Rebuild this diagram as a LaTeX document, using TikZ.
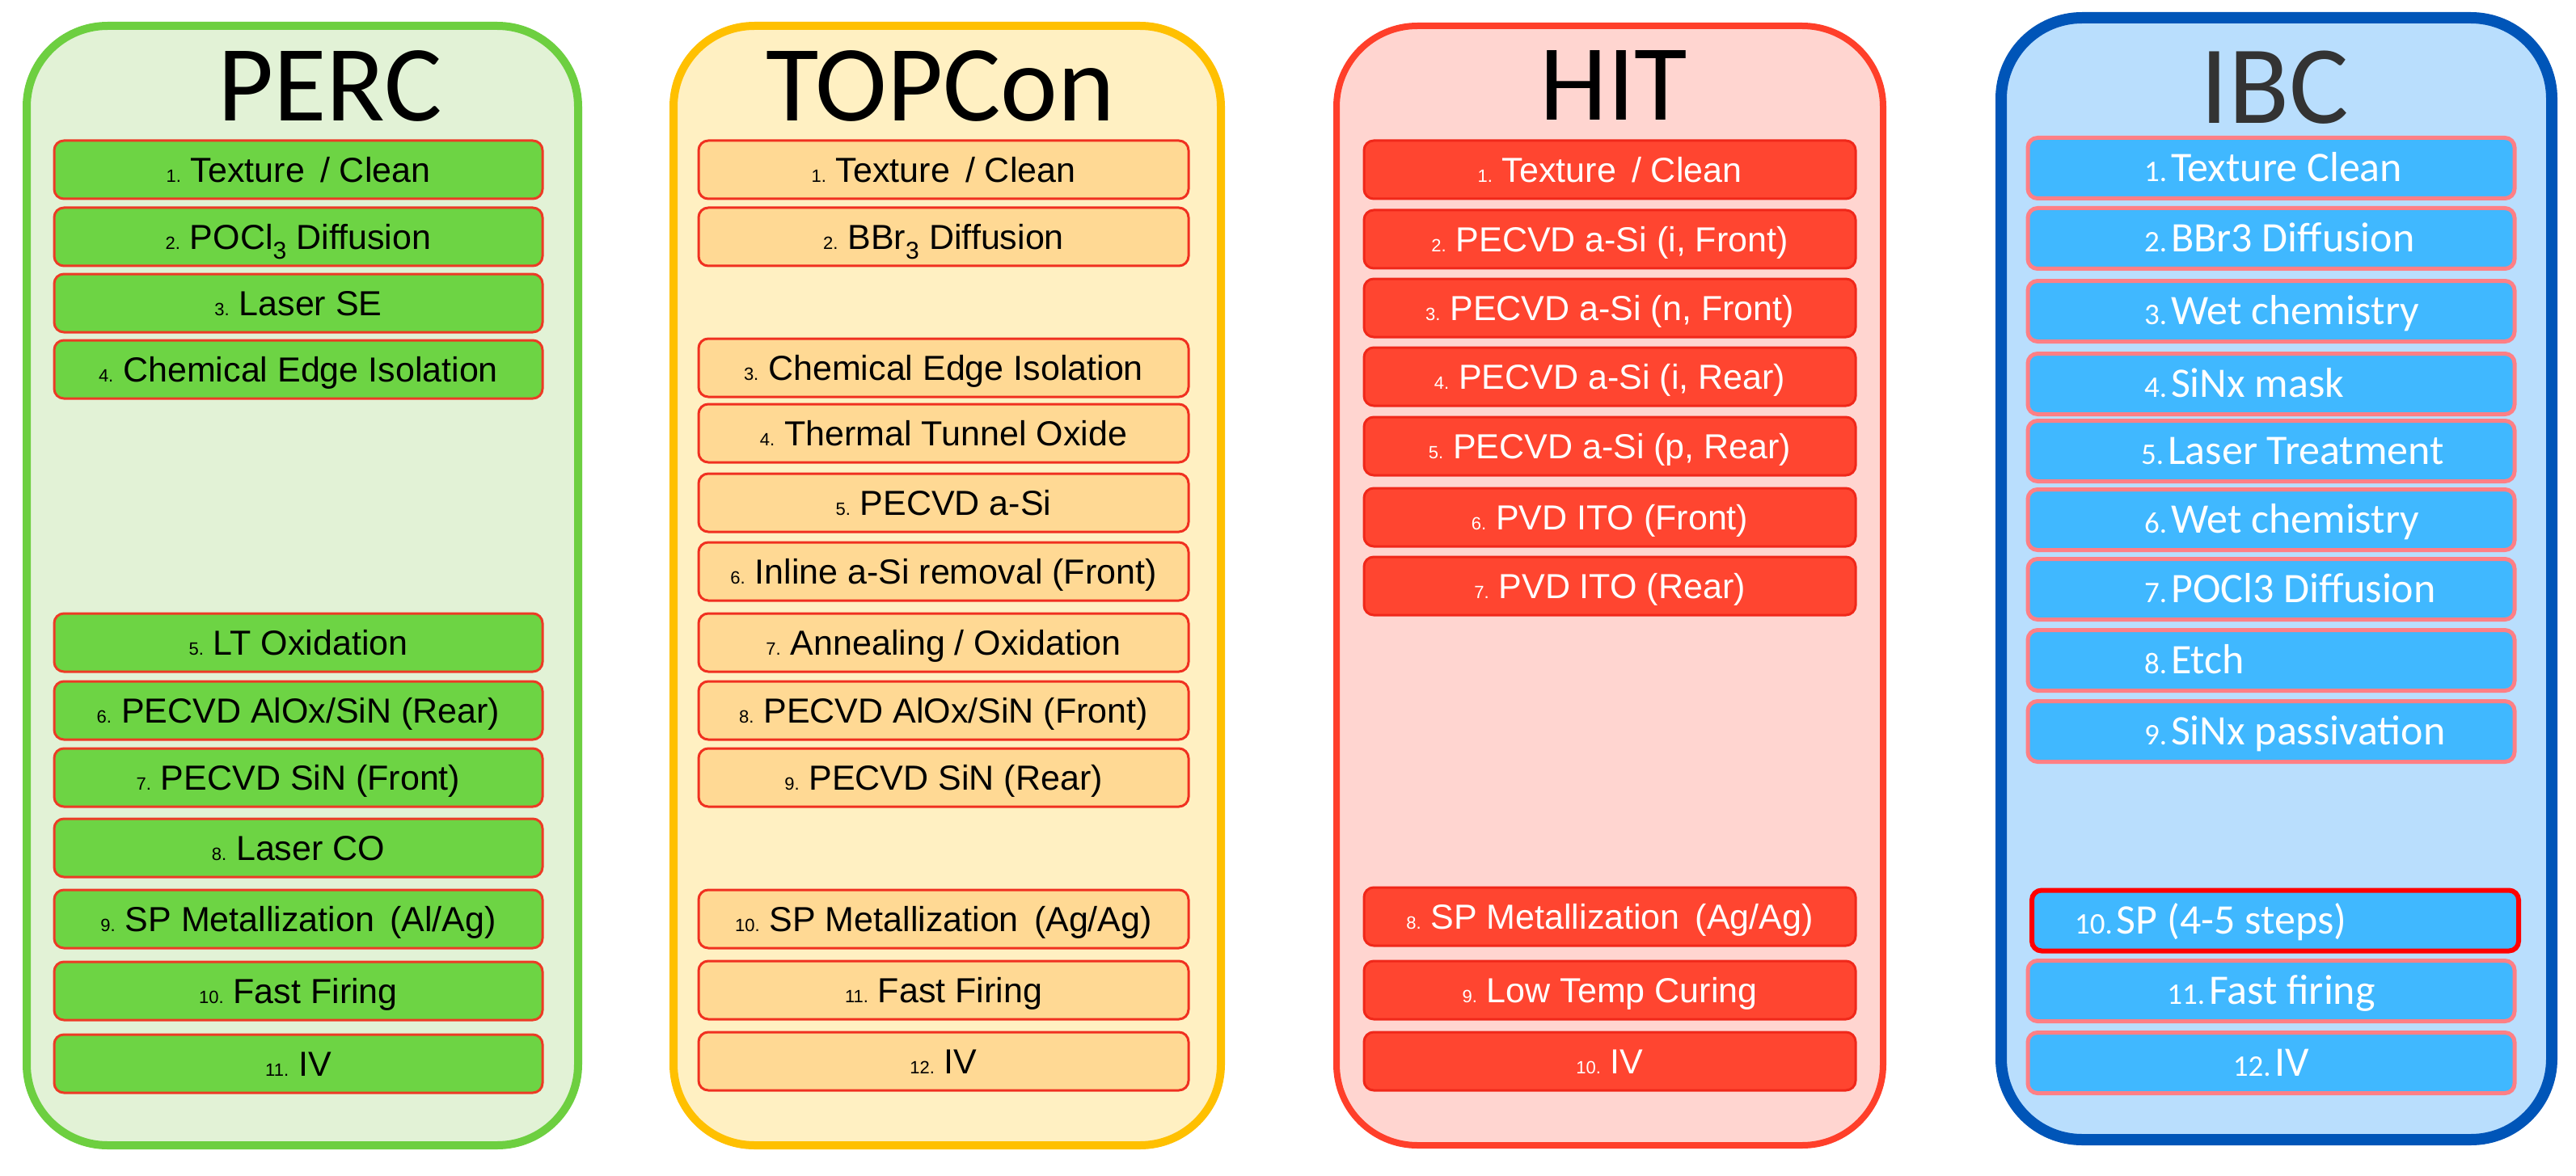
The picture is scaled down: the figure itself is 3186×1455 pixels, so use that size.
\documentclass[tikz,border=0pt]{standalone}
\usepackage{fontspec}
\setmainfont{Liberation Sans}
\newfontfamily\calib{Carlito}
\newfontfamily\arl{Liberation Sans}
\definecolor{percpanelfill}{HTML}{E2F2D6}
\definecolor{percpanelline}{HTML}{6DCF40}
\definecolor{percboxfill}{HTML}{6DD444}
\definecolor{percboxline}{HTML}{EC3B25}
\definecolor{toppanelfill}{HTML}{FFF0C2}
\definecolor{toppanelline}{HTML}{FFC000}
\definecolor{topboxfill}{HTML}{FFD994}
\definecolor{topboxline}{HTML}{F03020}
\definecolor{hitpanelfill}{HTML}{FFD5D0}
\definecolor{hitpanelline}{HTML}{FF3F2A}
\definecolor{hitboxfill}{HTML}{FF4530}
\definecolor{hitboxline}{HTML}{F0281A}
\definecolor{ibcpanelfill}{HTML}{B9DEFD}
\definecolor{ibcpanelline}{HTML}{0055B8}
\definecolor{ibcboxfill}{HTML}{40B8FF}
\definecolor{ibcboxline}{HTML}{FF7F85}
\definecolor{ibcred}{HTML}{FF0000}
\definecolor{ibctitle}{HTML}{333333}
\newcommand\pn[1]{{\fontsize{22}{22}\selectfont #1.}\ }
\newcommand\ipn[1]{{\fontsize{37}{37}\selectfont #1.}\hspace{5pt}}
\newcommand\ileft[2]{\makebox[602pt][l]{\hspace{#1}#2}}
\tikzset{
  panel/.style={rounded corners=100pt, inner sep=0pt, minimum height=1385pt},
  ptitle/.style={font=\calib\fontsize{134}{134}\selectfont, anchor=base, inner sep=0pt},
  abox/.style={rounded corners=12pt, line width=3pt, minimum width=604pt, minimum height=72pt,
    inner sep=0pt, font=\arl\fontsize{43}{43}\selectfont, text height=31pt, text depth=0pt},
  percb/.style={abox, draw=percboxline, fill=percboxfill, text=black},
  topb/.style={abox, draw=topboxline, fill=topboxfill, text=black, minimum width=606pt},
  hitb/.style={abox, draw=hitboxline, fill=hitboxfill, text=white, minimum width=608pt},
  ibox/.style={rounded corners=12pt, line width=5pt, draw=ibcboxline, fill=ibcboxfill, text=white,
    minimum width=602pt, minimum height=75pt, inner sep=0pt,
    font=\calib\fontsize{52}{52}\selectfont, text height=33pt, text depth=0pt}
}
\begin{document}
\begin{tikzpicture}[x=1pt,y=-1pt]
\useasboundingbox (0,0) rectangle (3186,1455);
\fill[white] (0,0) rectangle (3186,1455);
% panels
\node[panel, draw=percpanelline, fill=percpanelfill, line width=10pt, minimum width=682pt] (perc) at (374,724.5) {};
\node[panel, draw=toppanelline, fill=toppanelfill, line width=10pt, minimum width=677pt] (topcon) at (1171.5,724.5) {};
\node[panel, draw=hitpanelline, fill=hitpanelfill, line width=8pt, minimum width=676pt] (hit) at (1991,724.5) {};
\node[panel, draw=ibcpanelline, fill=ibcpanelfill, line width=14pt, minimum width=681pt, minimum height=1388pt] (ibc) at (2815.5,716) {};
% titles
\node[ptitle] (tperc) at (408,150) {PERC};
\node[ptitle] (ttop) at (1163,150) {TOPCon};
\node[ptitle] (thit) at (1996,149) {HIT};
\node[ptitle, text=ibctitle, font=\calib\fontsize{138}{138}\selectfont] (tibc) at (2813,153) {IBC};
% PERC
\node[percb] (p1) at (369,210) {\pn{1}Texture \,/ Clean};
\node[percb] (p2) at (369,293) {\pn{2}POCl\textsubscript{3} Diffusion};
\node[percb] (p3) at (369,375) {\pn{3}Laser SE};
\node[percb] (p4) at (369,457) {\pn{4}Chemical Edge Isolation};
\node[percb] (p5) at (369,795) {\pn{5}LT Oxidation};
\node[percb] (p6) at (369,879) {\pn{6}PECVD AlOx/SiN (Rear)};
\node[percb] (p7) at (369,962) {\pn{7}PECVD SiN (Front)};
\node[percb] (p8) at (369,1049) {\pn{8}Laser CO};
\node[percb] (p9) at (369,1137) {\pn{9}SP Metallization \,(Al/Ag)};
\node[percb] (p10) at (369,1226) {\pn{10}Fast Firing};
\node[percb] (p11) at (369,1316) {\pn{11}IV};
% TOPCon
\node[topb] (t1) at (1167,210) {\pn{1}Texture \,/ Clean};
\node[topb] (t2) at (1167,293) {\pn{2}BBr\textsubscript{3} Diffusion};
\node[topb] (t3) at (1167,455) {\pn{3}Chemical Edge Isolation};
\node[topb] (t4) at (1167,536) {\pn{4}Thermal Tunnel Oxide};
\node[topb] (t5) at (1167,622) {\pn{5}PECVD a-Si};
\node[topb] (t6) at (1167,707) {\pn{6}Inline a-Si removal (Front)};
\node[topb] (t7) at (1167,795) {\pn{7}Annealing / Oxidation};
\node[topb] (t8) at (1167,879) {\pn{8}PECVD AlOx/SiN (Front)};
\node[topb] (t9) at (1167,962) {\pn{9}PECVD SiN (Rear)};
\node[topb] (t10) at (1167,1137) {\pn{10}SP Metallization \,(Ag/Ag)};
\node[topb] (t11) at (1167,1225) {\pn{11}Fast Firing};
\node[topb] (t12) at (1167,1313) {\pn{12}IV};
% HIT
\node[hitb] (h1) at (1991,210) {\pn{1}Texture \,/ Clean};
\node[hitb] (h2) at (1991,296) {\pn{2}PECVD a-Si (i, Front)};
\node[hitb] (h3) at (1991,381) {\pn{3}PECVD a-Si (n, Front)};
\node[hitb] (h4) at (1991,466) {\pn{4}PECVD a-Si (i, Rear)};
\node[hitb] (h5) at (1991,552) {\pn{5}PECVD a-Si (p, Rear)};
\node[hitb] (h6) at (1991,640) {\pn{6}PVD ITO (Front)};
\node[hitb] (h7) at (1991,725) {\pn{7}PVD ITO (Rear)};
\node[hitb] (h8) at (1991,1134) {\pn{8}SP Metallization \,(Ag/Ag)};
\node[hitb] (h9) at (1991,1225) {\pn{9}Low Temp Curing};
\node[hitb] (h10) at (1991,1313) {\pn{10}IV};
% IBC
\node[ibox] (i1) at (2809,208) {\ileft{144pt}{\ipn{1}Texture Clean}};
\node[ibox] (i2) at (2809,295) {\ileft{144pt}{\ipn{2}BBr3 Diffusion}};
\node[ibox] (i3) at (2809,385) {\ileft{144pt}{\ipn{3}Wet chemistry}};
\node[ibox] (i4) at (2809,475) {\ileft{144pt}{\ipn{4}SiNx mask}};
\node[ibox] (i5) at (2809,558) {\ileft{140pt}{\ipn{5}Laser Treatment}};
\node[ibox] (i6) at (2809,643) {\ileft{144pt}{\ipn{6}Wet chemistry}};
\node[ibox] (i7) at (2809,729) {\ileft{144pt}{\ipn{7}POCl3 Diffusion}};
\node[ibox] (i8) at (2809,817) {\ileft{144pt}{\ipn{8}Etch}};
\node[ibox] (i9) at (2809,905) {\ileft{144pt}{\ipn{9}SiNx passivation}};
\node[ibox, draw=ibcred, line width=6pt] (i10) at (2814,1139) {\ileft{53pt}{\ipn{10}SP (4-5 steps)}};
\node[ibox] (i11) at (2809,1226) {\ipn{11}Fast firing};
\node[ibox] (i12) at (2809,1315) {\ipn{12}IV};
\end{tikzpicture}
\end{document}
